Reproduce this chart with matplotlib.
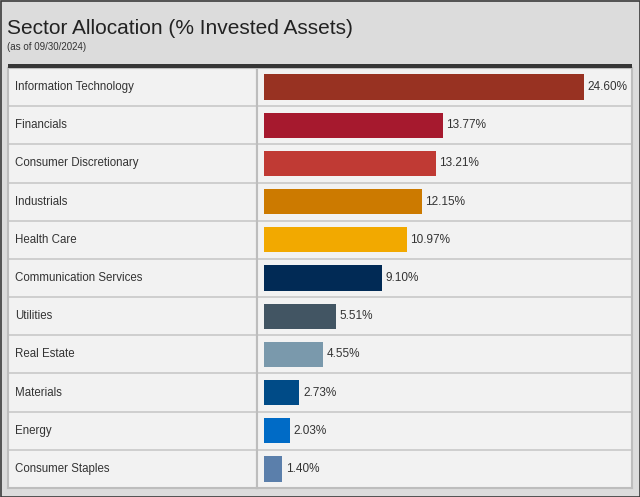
import matplotlib.pyplot as plt
from matplotlib.patches import Rectangle

sectors = ['Information Technology', 'Financials', 'Consumer Discretionary',
           'Industrials', 'Health Care', 'Communication Services', 'Utilities',
           'Real Estate', 'Materials', 'Energy', 'Consumer Staples']
weights = [24.60, 13.77, 13.21, 12.15, 10.97, 9.10, 5.51, 4.55, 2.73, 2.03, 1.40]
colors = ['#983222', '#a6192e', '#c03a34', '#cc7a00', '#f2a900', '#012a55',
          '#425563', '#7a99ac', '#004b87', '#006bc6', '#5b7fab']

W, H = 640, 497
fig = plt.figure(figsize=(W / 100, H / 100), dpi=100)
fig.patch.set_facecolor('#dcdcdc')
plt.rcParams['font.family'] = ['Liberation Sans', 'DejaVu Sans']

# outer border of the widget
fig.patches.append(Rectangle((0.5 / W, 0.5 / H), 1 - 1 / W, 1 - 1 / H,
                             transform=fig.transFigure, fill=False,
                             edgecolor='#3a3a3a', linewidth=1.2))

fig.text(7 / W, 1 - 29 / H, 'Sector Allocation (% Invested Assets)',
         fontsize=15, color='#222222', va='center', ha='left')
fig.text(7 / W, 1 - 47 / H, '(as of 09/30/2024)', fontsize=7,
         color='#333333', va='center', ha='left')

# table area in pixels
tl, tr, tt, tb = 8, 632, 68, 488
div = 257
n = len(sectors)

# background / label column
ax_lab = fig.add_axes([tl / W, (H - tb) / H, (div - tl) / W, (tb - tt) / H])
ax_lab.set_facecolor('#f2f2f2')
ax_lab.set_xlim(0, 1)
ax_lab.set_ylim(n - 0.5, -0.5)
for i, s in enumerate(sectors):
    ax_lab.text(7 / (div - tl), i, s, fontsize=8.3, color='#333333',
                va='center', ha='left')
for i in range(n - 1):
    ax_lab.axhline(i + 0.5, color='#cccccc', linewidth=1.3)
ax_lab.set_xticks([])
ax_lab.set_yticks([])
for sp in ax_lab.spines.values():
    sp.set_color('#bdbdbd')
    sp.set_linewidth(1.5)

# bar column
scale = 13.0  # px per percent
x0 = -7 / scale
x1 = x0 + (tr - div) / scale
ax = fig.add_axes([div / W, (H - tb) / H, (tr - div) / W, (tb - tt) / H])
ax.set_facecolor('#f2f2f2')
ax.barh(range(n), weights, height=0.66, color=colors, edgecolor='none')
ax.set_xlim(x0, x1)
ax.set_ylim(n - 0.5, -0.5)
for i, v in enumerate(weights):
    ax.annotate(f'{v:.2f}%', (v, i), xytext=(2.5, 0), textcoords='offset points',
                fontsize=8.5, color='#333333', va='center', ha='left')
for i in range(n - 1):
    ax.axhline(i + 0.5, color='#cccccc', linewidth=1.3)
ax.set_xticks([])
ax.set_yticks([])
for sp in ax.spines.values():
    sp.set_color('#bdbdbd')
    sp.set_linewidth(1.5)

# dark header rule
fig.patches.append(Rectangle((tl / W, (H - 68) / H), (tr - tl) / W, 4 / H,
                             transform=fig.transFigure, facecolor='#363636',
                             edgecolor='none'))

fig.savefig('out.png', dpi=100, facecolor=fig.get_facecolor())
